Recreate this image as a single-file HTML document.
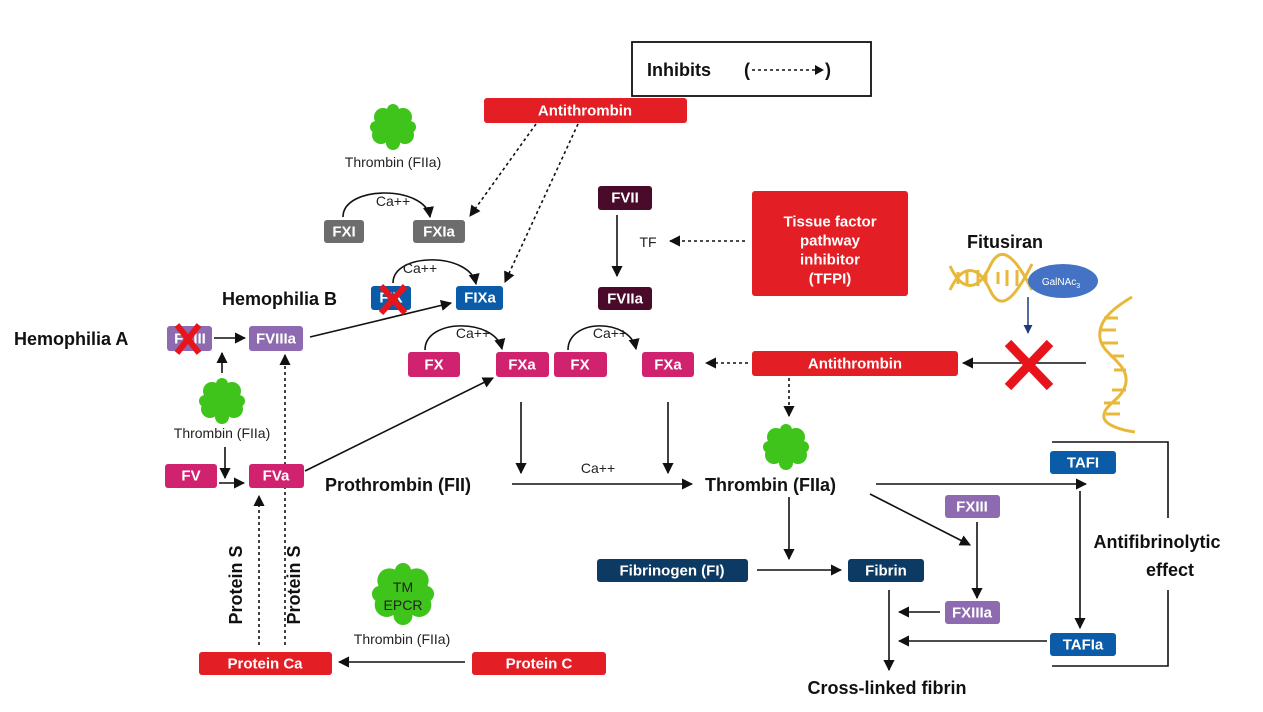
<!DOCTYPE html>
<html><head><meta charset="utf-8"><style>
html,body{margin:0;padding:0;background:#fff;}
svg{display:block;font-family:"Liberation Sans",Arial,sans-serif;}
.bt{font-weight:bold;fill:#fff;font-size:15px;text-anchor:middle;dominant-baseline:central;}
.lb{font-weight:bold;fill:#111;font-size:18px;}
.sm{fill:#222;font-size:14px;text-anchor:middle;}
</style></head><body>
<svg width="1263" height="712" viewBox="0 0 1263 712" xmlns="http://www.w3.org/2000/svg">
<defs>
<marker id="a" viewBox="0 0 10 10" refX="9" refY="5" markerWidth="7" markerHeight="7" orient="auto-start-reverse"><path d="M0,0L10,5L0,10z" fill="#111"/></marker>
<marker id="ab" viewBox="0 0 10 10" refX="9" refY="5" markerWidth="6" markerHeight="6" orient="auto"><path d="M0,0L10,5L0,10z" fill="#1f3a7a"/></marker>
<g id="blob" fill="#3ec41a">
<circle cx="0" cy="0" r="17"/><circle cx="-10" cy="-10" r="9"/><circle cx="10" cy="-10" r="9"/><circle cx="-12" cy="8" r="9"/><circle cx="12" cy="8" r="9"/><circle cx="0" cy="-17" r="6"/><circle cx="0" cy="16" r="7"/><circle cx="-17" cy="0" r="6"/><circle cx="17" cy="0" r="6"/>
</g>
</defs>
<g stroke="#111" stroke-width="1.6" fill="none">
<rect x="632" y="42" width="239" height="54" stroke-width="1.8"/>
<path d="M536,124 L470,216" stroke-dasharray="3,3" marker-end="url(#a)"/>
<path d="M578,124 L505,282" stroke-dasharray="3,3" marker-end="url(#a)"/>
<path d="M343,217 C343,185 425,185 430,217" marker-end="url(#a)"/>
<path d="M393,283 C393,252 470,252 476,284" marker-end="url(#a)"/>
<path d="M425,350 C425,318 495,318 502,349" marker-end="url(#a)"/>
<path d="M568,350 C568,318 630,318 636,349" marker-end="url(#a)"/>
<path d="M617,215 L617,276" marker-end="url(#a)"/>
<path d="M745,241 L670,241" stroke-dasharray="3,3" marker-end="url(#a)"/>
<path d="M214,338 L245,338" marker-end="url(#a)"/>
<path d="M310,337 L451,303" marker-end="url(#a)"/>
<path d="M222,373 L222,353" marker-end="url(#a)"/>
<path d="M225,447 L225,478" marker-end="url(#a)"/>
<path d="M219,483 L244,483" marker-end="url(#a)"/>
<path d="M305,471 L493,378" marker-end="url(#a)"/>
<path d="M285,645 L285,355" stroke-dasharray="3,3" marker-end="url(#a)"/>
<path d="M259,645 L259,496" stroke-dasharray="3,3" marker-end="url(#a)"/>
<path d="M465,662 L339,662" marker-end="url(#a)"/>
<path d="M521,402 L521,473" marker-end="url(#a)"/>
<path d="M668,402 L668,473" marker-end="url(#a)"/>
<path d="M512,484 L692,484" marker-end="url(#a)"/>
<path d="M748,363 L706,363" stroke-dasharray="3,3" marker-end="url(#a)"/>
<path d="M789,378 L789,416" stroke-dasharray="3,3" marker-end="url(#a)"/>
<path d="M1086,363 L963,363" marker-end="url(#a)"/>
<path d="M876,484 L1086,484" marker-end="url(#a)"/>
<path d="M870,494 L970,545" marker-end="url(#a)"/>
<path d="M789,497 L789,559" marker-end="url(#a)"/>
<path d="M757,570 L841,570" marker-end="url(#a)"/>
<path d="M977,522 L977,598" marker-end="url(#a)"/>
<path d="M940,612 L899,612" marker-end="url(#a)"/>
<path d="M1047,641 L899,641" marker-end="url(#a)"/>
<path d="M889,590 L889,670" marker-end="url(#a)"/>
<path d="M1080,491 L1080,628" marker-end="url(#a)"/>
<path d="M1052,442 L1168,442 L1168,518"/>
<path d="M1168,590 L1168,666 L1052,666"/>
</g>
<path d="M1028,297 L1028,333" stroke="#1f3a7a" stroke-width="1.5" marker-end="url(#ab)"/>
<text x="647" y="76" class="lb">Inhibits</text>
<text x="744" y="76" class="lb">(</text>
<path d="M752,70 L815,70" stroke="#111" stroke-width="1.5" stroke-dasharray="3,3"/>
<path d="M815,65 L824,70 L815,75z" fill="#111"/>
<text x="825" y="76" class="lb">)</text>
<g>
<rect x="484" y="98" width="203" height="25" rx="3" fill="#e31e24"/><text x="585" y="111" class="bt">Antithrombin</text>
<rect x="324" y="220" width="40" height="23" rx="3" fill="#6d6d6d"/><text x="344" y="232" class="bt">FXI</text>
<rect x="413" y="220" width="52" height="23" rx="3" fill="#6d6d6d"/><text x="439" y="232" class="bt">FXIa</text>
<rect x="371" y="286" width="40" height="24" rx="3" fill="#0a5ca8"/><text x="391" y="298" class="bt">FIX</text>
<rect x="456" y="286" width="47" height="24" rx="3" fill="#0a5ca8"/><text x="480" y="298" class="bt">FIXa</text>
<rect x="167" y="326" width="45" height="25" rx="3" fill="#8e6bb0"/><text x="190" y="339" class="bt">FVIII</text>
<rect x="249" y="326" width="54" height="25" rx="3" fill="#8e6bb0"/><text x="276" y="339" class="bt">FVIIIa</text>
<rect x="408" y="352" width="52" height="25" rx="3" fill="#d0226e"/><text x="434" y="365" class="bt">FX</text>
<rect x="496" y="352" width="53" height="25" rx="3" fill="#d0226e"/><text x="522" y="365" class="bt">FXa</text>
<rect x="554" y="352" width="53" height="25" rx="3" fill="#d0226e"/><text x="580" y="365" class="bt">FX</text>
<rect x="642" y="352" width="52" height="25" rx="3" fill="#d0226e"/><text x="668" y="365" class="bt">FXa</text>
<rect x="598" y="186" width="54" height="24" rx="3" fill="#4a0a2a"/><text x="625" y="198" class="bt">FVII</text>
<rect x="598" y="287" width="54" height="23" rx="3" fill="#4a0a2a"/><text x="625" y="299" class="bt">FVIIa</text>
<rect x="752" y="191" width="156" height="105" rx="3" fill="#e31e24"/>
<text x="830" y="222" class="bt">Tissue factor</text><text x="830" y="241" class="bt">pathway</text><text x="830" y="260" class="bt">inhibitor</text><text x="830" y="279" class="bt">(TFPI)</text>
<rect x="752" y="351" width="206" height="25" rx="3" fill="#e31e24"/><text x="855" y="364" class="bt">Antithrombin</text>
<rect x="165" y="464" width="52" height="24" rx="3" fill="#d0226e"/><text x="191" y="476" class="bt">FV</text>
<rect x="249" y="464" width="55" height="24" rx="3" fill="#d0226e"/><text x="276" y="476" class="bt">FVa</text>
<rect x="1050" y="451" width="66" height="23" rx="3" fill="#0a5ca8"/><text x="1083" y="463" class="bt">TAFI</text>
<rect x="1050" y="633" width="66" height="23" rx="3" fill="#0a5ca8"/><text x="1083" y="645" class="bt">TAFIa</text>
<rect x="945" y="495" width="55" height="23" rx="3" fill="#8e6bb0"/><text x="972" y="507" class="bt">FXIII</text>
<rect x="945" y="601" width="55" height="23" rx="3" fill="#8e6bb0"/><text x="972" y="613" class="bt">FXIIIa</text>
<rect x="597" y="559" width="151" height="23" rx="3" fill="#0d3a63"/><text x="672" y="571" class="bt">Fibrinogen (FI)</text>
<rect x="848" y="559" width="76" height="23" rx="3" fill="#0d3a63"/><text x="886" y="571" class="bt">Fibrin</text>
<rect x="199" y="652" width="133" height="23" rx="3" fill="#e31e24"/><text x="265" y="664" class="bt">Protein Ca</text>
<rect x="472" y="652" width="134" height="23" rx="3" fill="#e31e24"/><text x="539" y="664" class="bt">Protein C</text>
</g>
<g stroke="#e8141c" stroke-width="6">
<path d="M381,286 L405,313 M405,286 L381,313"/>
<path d="M177,325 L199,353 M199,325 L177,353"/>
</g>
<path d="M1008,343 L1050,387 M1050,343 L1008,387" stroke="#e8141c" stroke-width="9"/>
<use href="#blob" x="393" y="127"/>
<use href="#blob" x="222" y="401"/>
<use href="#blob" x="786" y="447"/>
<g transform="translate(403,594) scale(1.35)"><use href="#blob"/></g>
<text x="403" y="592" class="sm" font-size="15" fill="#111">TM</text>
<text x="403" y="610" class="sm" font-size="15" fill="#111">EPCR</text>
<text x="393" y="167" class="sm">Thrombin (FIIa)</text>
<text x="222" y="438" class="sm">Thrombin (FIIa)</text>
<text x="402" y="644" class="sm">Thrombin (FIIa)</text>
<text x="393" y="206" class="sm">Ca++</text>
<text x="420" y="273" class="sm">Ca++</text>
<text x="473" y="338" class="sm">Ca++</text>
<text x="610" y="338" class="sm">Ca++</text>
<text x="598" y="473" class="sm">Ca++</text>
<text x="648" y="247" class="sm">TF</text>
<text x="222" y="305" class="lb">Hemophilia B</text>
<text x="14" y="345" class="lb">Hemophilia A</text>
<text x="325" y="491" class="lb">Prothrombin (FII)</text>
<text x="705" y="491" class="lb">Thrombin (FIIa)</text>
<text x="967" y="248" class="lb">Fitusiran</text>
<text x="887" y="694" class="lb" text-anchor="middle">Cross-linked fibrin</text>
<text x="1157" y="548" class="lb" text-anchor="middle">Antifibrinolytic</text>
<text x="1170" y="576" class="lb" text-anchor="middle">effect</text>
<text transform="translate(242,585) rotate(-90)" class="lb" font-size="15" text-anchor="middle">Protein S</text>
<text transform="translate(300,585) rotate(-90)" class="lb" font-size="15" text-anchor="middle">Protein S</text>
<g stroke="#e8b83a" stroke-width="3" fill="none">
<path d="M950,266 C962,292 978,292 990,266 C1002,240 1018,262 1032,290"/>
<path d="M950,290 C962,264 978,264 990,290 C1002,316 1018,292 1032,264"/>
<path d="M958,272v12M967,270v16M978,270v16M986,272v12M998,272v12M1007,270v16M1017,270v16"/>
</g>
<ellipse cx="1063" cy="281" rx="35" ry="17" fill="#4472c4"/>
<text x="1061" y="285" fill="#fff" font-size="10" text-anchor="middle">GalNAc<tspan font-size="7" dy="3">3</tspan></text>
<g stroke="#e8b83a" stroke-width="3" fill="none">
<path d="M1132,297 C1110,310 1098,322 1100,338 C1102,355 1128,362 1126,382 C1124,400 1102,404 1104,418 C1106,425 1120,430 1135,432"/>
<path d="M1104,318h14M1100,330h16M1102,343h16M1110,356h14M1114,370h12M1112,390h14M1104,403h16M1106,414h14"/>
</g>
</svg>
</body></html>
